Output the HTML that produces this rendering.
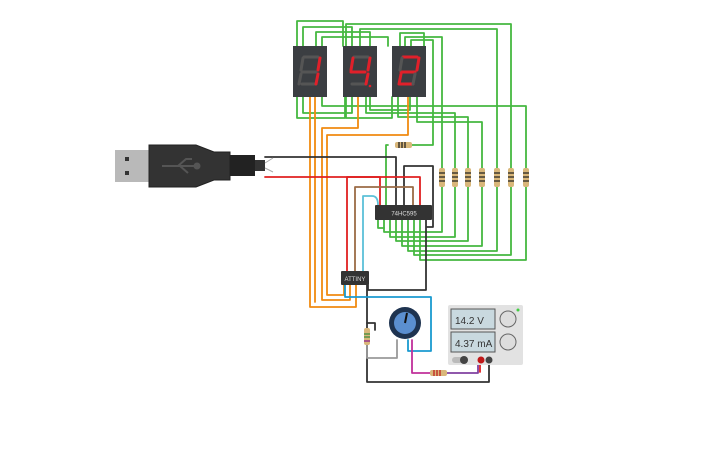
<!DOCTYPE html>
<html><head><meta charset="utf-8"><style>html,body{margin:0;padding:0;background:#fff;width:725px;height:453px;overflow:hidden}</style></head><body>
<svg width="725" height="453" viewBox="0 0 725 453" xmlns="http://www.w3.org/2000/svg" font-family="Liberation Sans, sans-serif">
<g fill="none" stroke-linejoin="round" stroke-linecap="round" stroke-width="1.8">
<!-- green top loops -->
<g stroke="#45b840">
<path d="M297 46 V21 H343 V46"/>
<path d="M303 46 V27 H352 V46"/>
<path d="M316 46 V32 H370 V46"/>
<path d="M322 46 V37 H388 V46"/>
<path d="M346 46 V24 H511 V168"/>
<path d="M360 46 V29 H497 V168"/>
<path d="M400 46 V33 H424 V46"/>
<path d="M405 46 V37 H442 V168"/>
<path d="M411 46 V40 H433 V145 H412"/>
<path d="M388 145 H386 V205"/>
<!-- bottom loops -->
<path d="M297 97 V118 H345 V97"/>
<path d="M303 97 V113 H352 V97"/>
<path d="M322 97 V106 H526 V168"/>
<path d="M346 97 V118 H392 V97"/>
<path d="M366 97 V113 H455 V168"/>
<path d="M370 97 V110 H410 V97"/>
<path d="M398 97 V117 H468 V168"/>
<path d="M417 97 V122 H482 V168"/>
<!-- bottom to chip -->
<path d="M442 187 V232 H384 V220"/>
<path d="M455 187 V237 H390 V220"/>
<path d="M468 187 V241 H396 V220"/>
<path d="M482 187 V246 H402 V220"/>
<path d="M497 187 V251 H408 V220"/>
<path d="M511 187 V255 H414 V220"/>
<path d="M526 187 V260 H420 V220"/>
<path d="M378 220 V228 H384"/>
</g>
<!-- orange -->
<g stroke="#f08a10">
<path d="M310 97 V307 H356 V285"/>
<path d="M358 97 V128 H322 V300 H350 V285"/>
<path d="M408 97 V135 H327 V295 H344 V285"/>
<path d="M315 97 V302"/>
</g>
<!-- black -->
<g stroke="#333">
<path d="M265 157 H396 V205"/>
<path d="M404 205 V166 H433 V227 H427"/>
<path d="M426 220 V290 H368 V285"/>
<path d="M367 285 V382 H489 V360"/>
<path d="M367 323 H375 V330"/>
</g>
<!-- red -->
<g stroke="#e02020">
<path d="M265 177 H380 V205"/>
<path d="M347 271 V177 H386"/>
<path d="M386 177 H420 V205"/>
<path d="M480 360 V372"/>
</g>
<path d="M355 271 V187 H413 V205" stroke="#9b6b45"/>
<path d="M363 271 V196 H372 Q378 196 378 205" stroke="#5bc0d8"/>
<path d="M345 285 V297 H431 V351 H408 V340" stroke="#1a9ad0"/>
<path d="M367 345 V358 H397 V340" stroke="#999"/>
<path d="M412 340 V373 H430" stroke="#c0309a"/>
<path d="M447 373 H478 V360" stroke="#8040a0"/>
</g>
<!-- displays -->
<g>
<rect x="293" y="46" width="34" height="51" fill="#3b3e42"/>
<rect x="343" y="46" width="34" height="51" fill="#3b3e42"/>
<rect x="392" y="46" width="34" height="51" fill="#3b3e42"/>
<g stroke-width="3" stroke-linecap="round" fill="none">
<g stroke="#555"><path d="M304 57 H318 M302 84 H316 M302 72 H316 M303 58 L301 70 M301 74 L299 84"/></g>
<path d="M320 58 L318 70 M318 74 L316 84" stroke="#e0202a"/>
<g stroke="#555"><path d="M354 57 H368 M352 84 H366"/></g>
<path d="M353 58 L351 70 M351 72 H365 M370 58 L368 70 M368 74 L366 84" stroke="#e0202a"/>
<circle cx="370" cy="86" r="1.3" fill="#e0202a" stroke="none"/>
<path d="M403 57 H417 M419 58 L417 70 M401 72 H415 M401 74 L399 84 M399 84 H413" stroke="#e0202a"/>
<path d="M402 58 L400 70 M415 74 L413 84" stroke="#555"/>
</g>
</g>
<!-- resistors -->
<g>
<g fill="#d9b77a">
<rect x="439" y="168" width="6" height="19" rx="2"/><rect x="452" y="168" width="6" height="19" rx="2"/><rect x="465" y="168" width="6" height="19" rx="2"/><rect x="479" y="168" width="6" height="19" rx="2"/><rect x="494" y="168" width="6" height="19" rx="2"/><rect x="508" y="168" width="6" height="19" rx="2"/><rect x="523" y="168" width="6" height="19" rx="2"/>
<rect x="395" y="142" width="17" height="6" rx="2"/>
<rect x="364" y="328" width="6" height="17" rx="2"/>
<rect x="430" y="370" width="17" height="6" rx="2"/>
</g>
<g stroke="#222" stroke-width="1.3">
<path d="M439 173h6M439 177h6M439 181h6M452 173h6M452 177h6M452 181h6M465 173h6M465 177h6M465 181h6M479 173h6M479 177h6M479 181h6M494 173h6M494 177h6M494 181h6M508 173h6M508 177h6M508 181h6M523 173h6M523 177h6M523 181h6"/>
<path d="M399 142v6M402 142v6M405 142v6"/>
<path d="M434 370v6M437 370v6M440 370v6" stroke="#c02020"/>
<path d="M364 334h6M364 337h6" stroke="#3a8a3a"/>
<path d="M364 341h6" stroke="#8a2090"/>
</g>
</g>
<!-- chips -->
<rect x="375" y="205" width="57" height="15" fill="#333" rx="1"/>
<text x="404" y="215.5" font-size="6" fill="#ddd" text-anchor="middle">74HC595</text>
<rect x="341" y="271" width="28" height="14" fill="#333" rx="1"/>
<text x="355" y="281" font-size="6" fill="#ddd" text-anchor="middle">ATTINY</text>
<!-- pot -->
<circle cx="405" cy="323" r="16" fill="#1e3350"/>
<circle cx="405" cy="323" r="11" fill="#5b8fd0"/>
<path d="M405 323 L407 313" stroke="#111" stroke-width="2"/>
<!-- power supply -->
<rect x="448" y="305" width="75" height="60" fill="#e2e2e2" rx="2"/>
<rect x="451" y="309" width="44" height="20" fill="#c9d9df" stroke="#555"/>
<rect x="451" y="332" width="44" height="20" fill="#c9d9df" stroke="#555"/>
<text x="455" y="324" font-size="10" fill="#333">14.2 V</text>
<text x="455" y="347" font-size="10" fill="#333">4.37 mA</text>
<circle cx="508" cy="319" r="8" fill="#ddd" stroke="#666"/>
<circle cx="508" cy="342" r="8" fill="#ddd" stroke="#666"/>
<circle cx="518" cy="310" r="1.5" fill="#4c4"/>
<rect x="452" y="357" width="16" height="6" rx="3" fill="#bbb"/>
<circle cx="464" cy="360" r="4" fill="#444"/>
<circle cx="481" cy="360" r="3.5" fill="#c01818"/>
<circle cx="489" cy="360" r="3.5" fill="#444"/>
<!-- USB -->
<rect x="115" y="150" width="36" height="32" fill="#b9b9b9"/>
<rect x="125" y="157" width="4" height="4" fill="#333"/><rect x="125" y="171" width="4" height="4" fill="#333"/>
<path d="M149 145 H196 L214 152 H230 V180 H214 L196 187 H149 Z" fill="#333" stroke="#222"/>
<path d="M162 166 H200 M178 166 L186 159 H192 M180 166 L188 173" stroke="#555" stroke-width="2" fill="none"/>
<circle cx="197" cy="166" r="3.5" fill="#555"/>
<rect x="230" y="155" width="25" height="21" fill="#222"/>
<rect x="255" y="160" width="10" height="11" fill="#333"/>
<path d="M265 163 L273 158 M265 168 L273 172" stroke="#aaa" fill="none"/>
</svg>
</body></html>
